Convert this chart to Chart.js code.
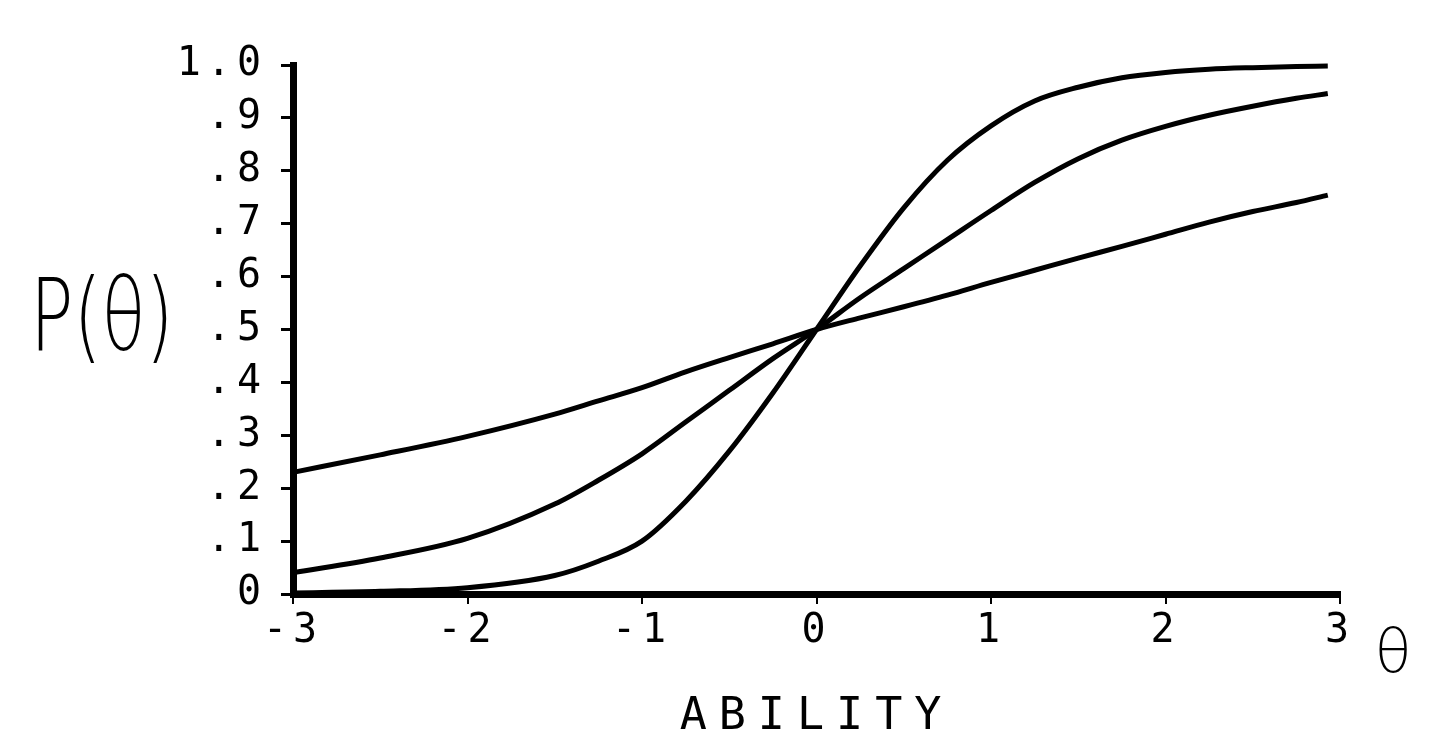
<!DOCTYPE html>
<html><head><meta charset="utf-8">
<script src="https://cdn.jsdelivr.net/npm/chart.js@4/dist/chart.umd.min.js"></script>
<style>html,body{margin:0;padding:0;background:#fff}#wrap{width:1437px;height:750px}</style>
</head><body><div id="wrap"><canvas id="c" width="1437" height="750"></canvas></div>
<script>
const theta      = [-3, -2.5, -2, -1.5, -1.25, -1, -0.75, -0.5, -0.25, 0, 0.25, 0.5, 0.75, 1, 1.25, 1.5, 1.75, 2, 2.25, 2.5, 2.75, 2.93];
const steepItem  = [0.002, 0.005, 0.012, 0.035, 0.062, 0.10, 0.175, 0.27, 0.38, 0.50, 0.62, 0.73, 0.82, 0.885, 0.932, 0.958, 0.976, 0.986, 0.992, 0.995, 0.997, 0.998];
const middleItem = [0.04, 0.068, 0.105, 0.17, 0.215, 0.265, 0.325, 0.385, 0.445, 0.50, 0.56, 0.615, 0.67, 0.725, 0.778, 0.823, 0.858, 0.884, 0.905, 0.922, 0.937, 0.946];
const flatItem   = [0.23, 0.263, 0.298, 0.34, 0.365, 0.39, 0.42, 0.447, 0.473, 0.50, 0.522, 0.543, 0.565, 0.589, 0.612, 0.635, 0.657, 0.68, 0.703, 0.723, 0.74, 0.754];
const xTickLabels = ['-3', '-2', '-1', '0', '1', '2', '3'];
const yTickLabels = ['0', '.1', '.2', '.3', '.4', '.5', '.6', '.7', '.8', '.9', '1.0'];
const yAxisTitle = 'P(θ)';
const xAxisTitle = 'ABILITY';
const xAxisSymbol = 'θ';

const monoFont = '"DejaVu Sans Mono", "Liberation Mono", monospace';

function series(ys) { return theta.map((t, i) => ({ x: t, y: ys[i] })); }
function lineDs(ys) {
  return { data: series(ys), borderColor: '#000', borderWidth: 5, pointRadius: 0,
           cubicInterpolationMode: 'monotone', fill: false, clip: false };
}

const extraText = {
  id: 'extraText',
  beforeUpdate(chart) { chart.ctx.letterSpacing = '6px'; },
  beforeDraw(chart) { chart.ctx.letterSpacing = '6px'; },
  afterLayout(chart) {
    const sx = chart.scales.x;
    if (!sx._wrappedTitle) {
      const orig = sx.drawTitle;
      sx.drawTitle = function () {
        const ctx = this.ctx; ctx.save(); ctx.letterSpacing = '12px';
        orig.apply(this, arguments); ctx.restore();
      };
      sx._wrappedTitle = true;
    }
  },
  afterDraw(chart) {
    const ctx = chart.ctx, a = chart.chartArea;
    ctx.save();
    ctx.letterSpacing = '0px';
    ctx.fillStyle = '#000';
    ctx.textAlign = 'left';
    ctx.textBaseline = 'alphabetic';
    ctx.font = '200 100px "DejaVu Sans", sans-serif';
    ctx.translate(a.left - 263, a.top + 285);
    ctx.scale(0.72, 1);
    ctx.fillText(yAxisTitle, 0, 0);
    ctx.restore();
    ctx.save();
    ctx.letterSpacing = '0px';
    ctx.fillStyle = '#000';
    ctx.textAlign = 'center';
    ctx.textBaseline = 'alphabetic';
    ctx.font = '200 60px "DejaVu Sans", sans-serif';
    ctx.fillText(xAxisSymbol, a.right + 53, a.bottom + 78);
    ctx.restore();
  }
};

new Chart(document.getElementById('c'), {
  type: 'line',
  data: { datasets: [lineDs(steepItem), lineDs(middleItem), lineDs(flatItem)] },
  plugins: [extraText],
  options: {
    responsive: false, animation: false, devicePixelRatio: 1,
    layout: { padding: { top: 65, right: 97, left: 0, bottom: 0 } },
    plugins: { legend: { display: false }, tooltip: { enabled: false } },
    scales: {
      x: {
        type: 'linear', min: -3, max: 3,
        afterFit(s) { s.height = 156; },
        border: { display: true, color: '#000', width: 7 },
        grid: { drawOnChartArea: false, drawTicks: true, tickLength: 10, color: '#000', lineWidth: 2 },
        ticks: { stepSize: 1, autoSkip: false, maxRotation: 0, color: '#000', padding: 4,
                 font: { family: monoFont, size: 40 },
                 callback: (v, i) => xTickLabels[i] },
        title: { display: true, text: xAxisTitle, color: '#000',
                 font: { family: monoFont, size: 45 }, padding: { top: 0, bottom: 6 } }
      },
      y: {
        type: 'linear', min: 0, max: 1,
        afterFit(s) { s.width = 293; },
        border: { display: true, color: '#000', width: 7 },
        grid: { drawOnChartArea: false, drawTicks: true, tickLength: 12, color: '#000', lineWidth: 3 },
        ticks: { stepSize: 0.1, autoSkip: false, color: '#000', padding: 14,
                 font: { family: monoFont, size: 40 },
                 callback: (v, i) => yTickLabels[i] }
      }
    }
  }
});
</script>
</body></html>
